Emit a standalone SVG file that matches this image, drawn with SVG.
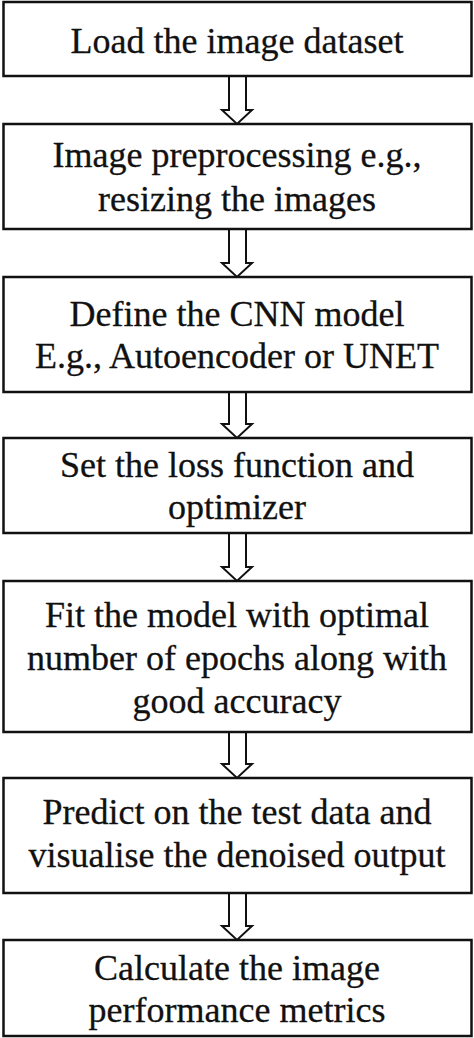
<svg xmlns="http://www.w3.org/2000/svg" width="474" height="1038" viewBox="0 0 474 1038">
<style>
.box{fill:#fff;stroke:#111;stroke-width:2.5}
.arr{fill:#fff;stroke:#111;stroke-width:2;stroke-linejoin:miter}
text{font-family:"Liberation Serif","Times New Roman",serif;font-size:36px;fill:#111;stroke:#111;stroke-width:0.3;text-anchor:middle}
</style>
<rect width="474" height="1038" fill="#fff"/>
<g id="connectors">
<path class="arr" d="M229,77 V110 H222 L237,124 L252,110 H246 V77"/>
<path class="arr" d="M229,230 V263 H222 L237,277 L252,263 H246 V230"/>
<path class="arr" d="M229,393 V424 H222 L237,438 L252,424 H246 V393"/>
<path class="arr" d="M229,534 V567 H222 L237,581 L252,567 H246 V534"/>
<path class="arr" d="M229,733 V764 H222 L237,778 L252,764 H246 V733"/>
<path class="arr" d="M229,894 V926 H222 L237,940 L252,926 H246 V894"/>
</g>
<g id="n1"><rect class="box" x="3.5" y="2" width="468" height="74"/>
<text x="237" y="53">Load the image dataset</text></g>
<g id="n2"><rect class="box" x="3.5" y="124" width="468" height="105"/>
<text x="237" y="167">Image preprocessing e.g.,</text>
<text x="237" y="211">resizing the images</text></g>
<g id="n3"><rect class="box" x="3.5" y="277" width="468" height="115"/>
<text x="237" y="326">Define the CNN model</text>
<text x="237" y="368">E.g., Autoencoder or UNET</text></g>
<g id="n4"><rect class="box" x="3.5" y="438" width="468" height="95"/>
<text x="237" y="477">Set the loss function and</text>
<text x="237" y="519">optimizer</text></g>
<g id="n5"><rect class="box" x="3.5" y="581" width="468" height="151"/>
<text x="237" y="627">Fit the model with optimal</text>
<text x="237" y="670">number of epochs along with</text>
<text x="237" y="713">good accuracy</text></g>
<g id="n6"><rect class="box" x="3.5" y="778" width="468" height="115"/>
<text x="237" y="824">Predict on the test data and</text>
<text x="237" y="867">visualise the denoised output</text></g>
<g id="n7"><rect class="box" x="3.5" y="940" width="468" height="96"/>
<text x="237" y="980">Calculate the image</text>
<text x="237" y="1022">performance metrics</text></g>
</svg>
